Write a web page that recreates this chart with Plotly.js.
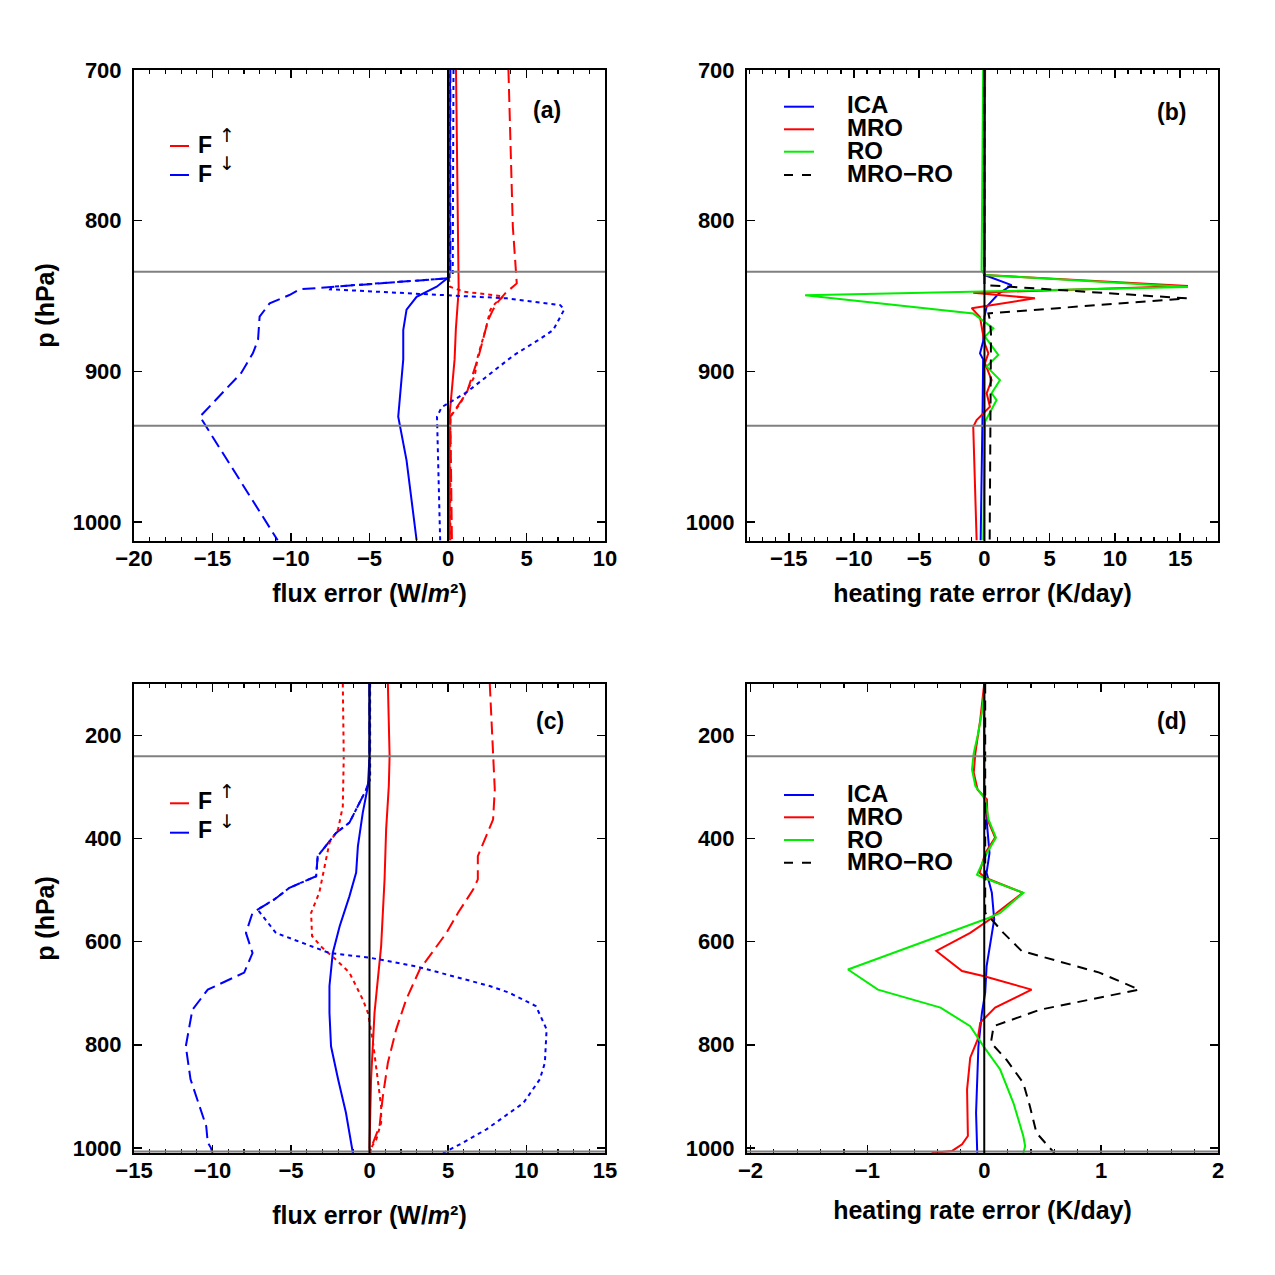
<!DOCTYPE html>
<html>
<head>
<meta charset="utf-8">
<script src="https://cdn.plot.ly/plotly-3.0.1.min.js"></script>
<style>html,body{margin:0;padding:0;background:#fff;}#chart{width:1275px;height:1275px;}</style>
</head>
<body>
<div id="chart"></div>
<script>
// ---------- Panel (a): flux error, 700-1013 hPa ----------
const aUpSolidP = [700, 837, 846, 872, 892, 914, 930, 1012];
const aUpSolidX = [0.51, 0.66, 0.68, 0.5, 0.42, 0.23, 0.09, 0.12];
const aUpDashP = [700, 804, 841.6, 848.2, 854.8, 859, 865, 872, 890, 914, 930, 1012];
const aUpDashX = [3.85, 4.13, 4.38, 3.64, 3.1, 2.87, 2.6, 2.4, 1.95, 1.2, 0.15, 0.25];
const aUpDotP = [700, 838, 843.8, 847, 850.2, 855, 859, 872, 890, 903, 921, 930, 1012];
const aUpDotX = [0.05, 0.05, 0.13, 0.98, 3.53, 3.0, 2.7, 2.4, 1.9, 1.7, 0.8, 0.15, 0.15];
const aDnSolidP = [700, 837, 843.8, 850.5, 859, 872.5, 892, 930, 959, 1012];
const aDnSolidX = [0.13, 0.1, -0.72, -2.0, -2.64, -2.85, -2.85, -3.17, -2.64, -2.0];
const aDnDashP = [700, 836, 838.2, 843.8, 845.5, 849.3, 854.8, 863.7, 879, 888, 901, 930, 1012];
const aDnDashX = [0.15, 0.15, 0.0, -7.53, -9.44, -10.1, -11.36, -12.0, -12.1, -12.43, -13.17, -15.8, -10.85];
const aDnDotP = [700, 836, 838.2, 843.8, 845.5, 851.5, 856, 859, 872.5, 878.4, 889.4, 913.8, 923.7, 930, 1012];
const aDnDotX = [0.35, 0.3, 0.0, -7.4, -7.5, 3.74, 7.15, 7.4, 6.7, 5.87, 4.17, 1.19, -0.4, -0.7, -0.5];
const aCloudP = [833.8, 936];

// ---------- Panel (b): heating rate error, 700-1013 hPa ----------
const bIcaP = [700, 836, 842.7, 848.6, 857, 863.6, 880, 888, 892, 900, 930, 1012];
const bIcaX = [0, 0, 2.08, 1.06, 0.17, 0, -0.1, -0.34, -0.1, -0.1, -0.15, -0.29];
const bMroP = [700, 836, 843.3, 847.8, 851.5, 858, 864, 881, 888, 894.6, 905.7, 914.5, 923.4, 932.3, 936.7, 958.8, 1012];
const bMroX = [0.05, 0, 15.6, -0.86, 3.87, -0.98, -0.34, 0, 0.3, 0.04, 0.55, 0.17, 0.42, -0.6, -0.86, -0.77, -0.6];
const bRoP = [700, 832.7, 836, 844, 849.5, 861.5, 871.4, 876.9, 889.1, 896.8, 905.7, 914.5, 919, 933.4, 1012];
const bRoX = [-0.1, -0.22, 0, 15.6, -13.75, -0.86, 0.68, 0.04, 1.06, 0.17, 1.19, 0.55, 0.93, 0.04, -0.09];
const bDiffP = [700, 842.7, 851.5, 861.5, 866, 875, 1012];
const bDiffX = [0, 0, 15.5, 0.3, 0.42, 0.5, 0.4];
const bCloudP = [833.8, 936];

// ---------- Panel (c): flux error, 100-1010 hPa ----------
const cUpSolidP = [99, 240, 298, 382, 479, 609, 673, 738, 867, 1000, 1010];
const cUpSolidX = [1.17, 1.28, 1.23, 1.06, 0.96, 0.74, 0.53, 0.32, 0.1, 0, 0.05];
const cUpDashP = [99, 240, 305, 363, 434, 479, 499, 544, 583, 654, 712, 770, 835, 900, 958, 1000, 1010];
const cUpDashX = [7.66, 7.87, 7.98, 7.87, 6.9, 6.9, 6.6, 5.64, 4.9, 3.2, 2.34, 1.7, 1.17, 0.85, 0.64, 0.1, 0.05];
const cUpDotP = [99, 240, 337, 382, 408, 453, 505, 544, 589, 609, 635, 660, 712, 738, 790, 919, 951, 984, 1000, 1010];
const cUpDotX = [-1.7, -1.64, -1.7, -2.0, -2.55, -2.87, -3.2, -3.72, -3.66, -3.1, -2.13, -1.28, -0.43, -0.1, 0.2, 0.74, 0.74, 0.43, 0.1, 0.05];
const cDnSolidP = [99, 240, 298, 350, 415, 466, 512, 570, 622, 686, 738, 803, 867, 932, 1010];
const cDnSolidX = [0, 0, -0.1, -0.43, -0.74, -0.85, -1.28, -1.9, -2.34, -2.55, -2.55, -2.45, -2.0, -1.5, -1.06];
const cDnDashP = [99, 285, 305, 369, 389, 434, 473, 495.5, 518, 537.6, 544, 583, 622, 660, 693, 732, 803, 867, 958, 990, 1000, 1010];
const cDnDashX = [0, 0, -0.21, -1.28, -2.13, -3.3, -3.4, -5.1, -6.06, -7.13, -7.45, -7.87, -7.45, -7.98, -10.3, -11.28, -11.7, -11.4, -10.4, -10.3, -10.1, -10.0];
const cDnDotP = [99, 285, 305, 369, 389, 434, 473, 495.5, 518, 537.6, 583, 622, 631, 648, 686, 699, 725, 770, 835, 867, 913, 964, 990, 1010];
const cDnDotX = [0.04, 0.04, -0.21, -1.28, -2.13, -3.3, -3.4, -5.1, -6.06, -7.13, -5.96, -2.55, 0, 2.98, 7.66, 8.9, 10.6, 11.28, 11.17, 10.85, 9.8, 7.45, 5.96, 4.68];
const cCloudP = [240, 1007];

// ---------- Panel (d): heating rate error, 100-1010 hPa ----------
const dIcaP = [99, 305, 363, 428, 466, 505, 557, 596, 648, 699, 738, 803, 932, 1010];
const dIcaX = [0, 0, 0.02, 0.045, 0.02, 0.065, 0.085, 0.057, 0.02, 0.008, -0.02, -0.05, -0.07, -0.06];
const dMroP = [99, 169, 234, 272, 305, 324, 363, 398, 428, 466, 476, 505, 544, 554, 583, 618, 657, 667, 693, 728, 757, 790, 825, 887, 977, 993, 1006, 1010];
const dMroX = [0, -0.034, -0.076, -0.09, -0.057, 0.023, 0.028, 0.093, 0.008, -0.04, 0.008, 0.33, 0.108, 0.065, -0.12, -0.41, -0.19, 0, 0.405, 0.093, -0.034, -0.057, -0.12, -0.147, -0.14, -0.19, -0.275, -0.45];
const dRoP = [99, 156, 201, 234, 266, 298, 324, 363, 398, 428, 470, 476, 505, 544, 554, 654, 693, 728, 764, 803, 848, 913, 977, 997, 1010];
const dRoX = [0.008, -0.02, -0.057, -0.09, -0.105, -0.076, 0.008, 0.037, 0.1, 0.023, -0.062, -0.006, 0.334, 0.136, 0.037, -1.166, -0.91, -0.374, -0.12, -0.006, 0.136, 0.25, 0.334, 0.35, 0.334];
const dDiffP = [99, 544, 550, 583, 618, 660, 693, 732, 764, 796, 829, 874, 919, 971, 1000, 1010];
const dDiffX = [0.008, 0.008, 0.037, 0.164, 0.32, 0.985, 1.325, 0.476, 0.08, 0.057, 0.19, 0.334, 0.39, 0.447, 0.56, 0.6];
const dCloudP = [240, 1007];

// ---------- Labels ----------
const panelLabels = ['(a)', '(b)', '(c)', '(d)'];
const fluxLegend = ['F', 'F'];
const fluxArrows = ['↑', '↓'];
const hrLegend = ['ICA', 'MRO', 'RO', 'MRO−RO'];
const fluxTitle = 'flux error (W/<i>m</i>²)';
const hrTitle = 'heating rate error (K/day)';
const pTitle = 'p (hPa)';

// ---------- Styling ----------
const FONT = 'Liberation Sans, Arial, Helvetica, sans-serif';
const RED = '#ff0000', BLUE = '#0000ff', GREEN = '#00ee00';
const DASH = '13px,6px', DOT = '4px,4px', KDASH = '10px,7px', KLEG = '9px,9px';
const LW = 2;

function tr(x, y, ax, color, dash, name) {
  return {
    type: 'scatter', mode: 'lines', x: x, y: y, name: name || '',
    xaxis: 'x' + (ax === 1 ? '' : ax), yaxis: 'y' + (ax === 1 ? '' : ax),
    line: {color: color, width: LW, dash: dash}, showlegend: false, hoverinfo: 'skip'
  };
}

const traces = [
  tr(aUpSolidX, aUpSolidP, 1, RED, 'solid', 'F up'),
  tr(aDnSolidX, aDnSolidP, 1, BLUE, 'solid', 'F down'),
  tr(aUpDashX, aUpDashP, 1, RED, DASH),
  tr(aDnDashX, aDnDashP, 1, BLUE, DASH),
  tr(aUpDotX, aUpDotP, 1, RED, DOT),
  tr(aDnDotX, aDnDotP, 1, BLUE, DOT),

  tr(bIcaX, bIcaP, 2, BLUE, 'solid', hrLegend[0]),
  tr(bMroX, bMroP, 2, RED, 'solid', hrLegend[1]),
  tr(bRoX, bRoP, 2, GREEN, 'solid', hrLegend[2]),
  tr(bDiffX, bDiffP, 2, 'black', KDASH, hrLegend[3]),

  tr(cUpSolidX, cUpSolidP, 3, RED, 'solid', 'F up'),
  tr(cDnSolidX, cDnSolidP, 3, BLUE, 'solid', 'F down'),
  tr(cUpDashX, cUpDashP, 3, RED, DASH),
  tr(cDnDashX, cDnDashP, 3, BLUE, DASH),
  tr(cUpDotX, cUpDotP, 3, RED, DOT),
  tr(cDnDotX, cDnDotP, 3, BLUE, DOT),

  tr(dIcaX, dIcaP, 4, BLUE, 'solid', hrLegend[0]),
  tr(dMroX, dMroP, 4, RED, 'solid', hrLegend[1]),
  tr(dRoX, dRoP, 4, GREEN, 'solid', hrLegend[2]),
  tr(dDiffX, dDiffP, 4, 'black', KDASH, hrLegend[3])
];

const tickFont = {family: FONT, size: 22, color: 'black', weight: 'bold'};
const titleFont = {family: FONT, size: 25, color: 'black', weight: 'bold'};

function xax(domain, range, dtick, minor, title, anchor, standoff) {
  return {
    domain: domain, range: range, dtick: dtick, tick0: 0, anchor: anchor,
    showline: true, linewidth: 2, linecolor: 'black', mirror: 'ticks',
    ticks: 'inside', ticklen: 8, tickwidth: 1.5, tickcolor: 'black',
    minor: {dtick: minor, ticks: 'inside', ticklen: 4, tickwidth: 1.2, tickcolor: 'black', showgrid: false},
    showgrid: false, zeroline: false, tickfont: tickFont, ticklabelstandoff: -3,
    title: {text: title, font: titleFont, standoff: standoff}
  };
}
function yax(domain, range, dtick, title, anchor) {
  return {
    domain: domain, range: range, dtick: dtick, tick0: 0, anchor: anchor,
    showline: true, linewidth: 2, linecolor: 'black', mirror: 'ticks',
    ticks: 'inside', ticklen: 8, tickwidth: 1.5, tickcolor: 'black',
    showgrid: false, zeroline: false, tickfont: tickFont, ticklabelstandoff: 6,
    title: {text: title, font: titleFont, standoff: 11}
  };
}

const L = [134 / 1275, 605 / 1275], R = [747 / 1275, 1218 / 1275];
const T = [1 - 541 / 1275, 1 - 70 / 1275], B = [1 - 1153 / 1275, 1 - 684 / 1275];
const px = v => v / 1275, py = v => 1 - v / 1275;

function zeroLine(ax) {
  return {type: 'line', xref: 'x' + ax, yref: 'y' + ax + ' domain', x0: 0, x1: 0, y0: 0, y1: 1,
          line: {color: 'black', width: 2}, layer: 'above'};
}
function cloudLine(ax, p) {
  return {type: 'line', xref: 'x' + ax + ' domain', yref: 'y' + ax, x0: 0, x1: 1, y0: p, y1: p,
          line: {color: '#808080', width: 2}, layer: 'above'};
}
const shapes = [];
[['', aCloudP], ['2', bCloudP], ['3', cCloudP], ['4', dCloudP]].forEach(([ax, ps]) => {
  ps.forEach(p => shapes.push(cloudLine(ax, p)));
  shapes.push(zeroLine(ax));
});

const annotations = [];
const labelPos = [[547, 110], [1171, 112], [550, 721], [1171, 721]];
panelLabels.forEach((t, i) => annotations.push({
  text: t, xref: 'paper', yref: 'paper', x: px(labelPos[i][0]), y: py(labelPos[i][1]),
  xanchor: 'center', yanchor: 'middle', showarrow: false,
  font: {family: FONT, size: 23, color: 'black', weight: 'bold'}
}));

// ---------- Legend keys (sample line + label) ----------
function legendLine(x0, x1, y, color, dash) {
  shapes.push({type: 'line', xref: 'paper', yref: 'paper', x0: px(x0), x1: px(x1), y0: py(y), y1: py(y),
               line: {color: color, width: 2, dash: dash}});
}
function legendText(text, x, y, font) {
  annotations.push({
    text: text, xref: 'paper', yref: 'paper', x: px(x), y: py(y), xanchor: 'left', yanchor: 'middle',
    showarrow: false, borderpad: 0, font: font
  });
}
const legFont = size => ({family: FONT, size: size, color: 'black', weight: 'bold'});
const arrowFont = {family: 'DejaVu Sans, Liberation Sans, sans-serif', size: 19, color: 'black', weight: 'normal'};
const fluxColors = [RED, BLUE];
const hrColors = [BLUE, RED, GREEN, 'black'];
const hrDash = ['solid', 'solid', 'solid', KLEG];
// (a) and (c): line y, arrow y, letter y
[[146, 175, 135, 163.5, 145, 173.5], [803.3, 832.7, 791.5, 821, 801.3, 830]].forEach(rows => {
  for (let i = 0; i < 2; i++) {
    legendLine(170, 189, rows[i], fluxColors[i], 'solid');
    legendText(fluxLegend[i], 197, rows[4 + i], legFont(23));
    legendText(fluxArrows[i], 218, rows[2 + i], arrowFont);
  }
});
// (b) and (d)
[[106.7, 129.3, 151.7, 175, 104.2, 127.7, 151, 173.3], [795, 817.3, 840, 862.7, 793.3, 816.7, 839, 861.7]].forEach(rows => {
  for (let i = 0; i < 4; i++) {
    legendLine(784, 814, rows[i], hrColors[i], hrDash[i]);
    legendText(hrLegend[i], 846, rows[4 + i], legFont(24));
  }
});

const layout = {
  width: 1275, height: 1275, margin: {l: 0, r: 0, t: 0, b: 0},
  paper_bgcolor: 'white', plot_bgcolor: 'white', showlegend: false,
  font: {family: FONT, color: 'black'},
  xaxis: xax(L, [-20, 10], 5, 1, fluxTitle, 'y', 14),
  yaxis: yax(T, [1012.5, 700], 100, pTitle, 'x'),
  xaxis2: xax(R, [-18.2, 17.9], 5, 1, hrTitle, 'y2', 14),
  yaxis2: yax(T, [1012.5, 700], 100, '', 'x2'),
  xaxis3: xax(L, [-15, 15], 5, 1, fluxTitle, 'y3', 24),
  yaxis3: yax(B, [1010, 100], 200, pTitle, 'x3'),
  xaxis4: xax(R, [-2.03, 2], 1, 0.2, hrTitle, 'y4', 19),
  yaxis4: yax(B, [1010, 100], 200, '', 'x4'),
  shapes: shapes,
  annotations: annotations
};

Plotly.newPlot('chart', traces, layout, {staticPlot: true, displayModeBar: false});
</script>
</body>
</html>
